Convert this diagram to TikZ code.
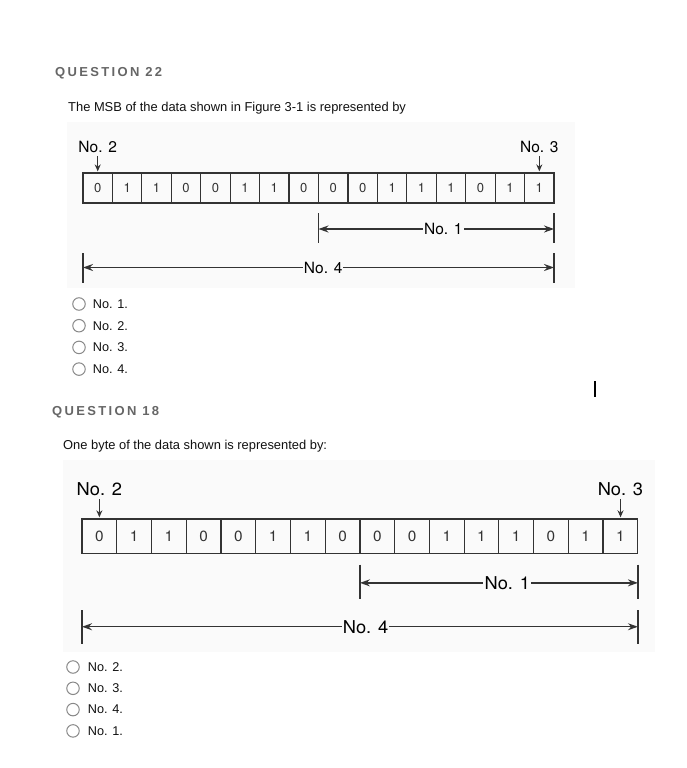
\documentclass[tikz,border=0pt]{standalone}
\usepackage{fontspec}
\setmainfont{Liberation Sans}
\newfontfamily\figfont{TeX Gyre Heros}
\newfontfamily\titlefont[LetterSpace=18]{Liberation Sans}
\usetikzlibrary{arrows.meta,positioning}
\definecolor{qgray}{HTML}{666666}
\definecolor{txtdark}{HTML}{111111}
\definecolor{figline}{HTML}{333333}
\definecolor{panelbg}{HTML}{FAFAFA}
\definecolor{radiogray}{HTML}{888888}

\tikzset{
  qtitle/.style={anchor=west, inner sep=0pt, text=qgray, font=\titlefont\fontsize{13}{15}\selectfont\bfseries},
  qtext/.style={anchor=west, inner sep=0pt, text=txtdark, font=\fontsize{12.9}{15}\selectfont},
  radio/.style={circle, draw=radiogray, line width=1pt, minimum size=12.5pt, inner sep=0pt},
  opt/.style={inner sep=0pt, text=txtdark, font=\fontsize{12.7}{15}\selectfont},
  bitcell/.style={draw=figline, line width=1.2pt, minimum width=29.44pt, minimum height=30pt,
    inner sep=0pt, text=figline, font=\figfont\fontsize{13}{13}\selectfont},
  figlabel/.style={inner sep=0pt, text=black, font=\figfont\fontsize{15.5}{16}\selectfont},
  dimlabel/.style={fill=panelbg, inner xsep=1pt, inner ysep=0pt, text=black, font=\figfont\fontsize{15.5}{16}\selectfont},
  tickline/.style={draw=figline, line width=1.6pt},
  dimline/.style={draw=figline, line width=1.3pt, {Stealth[length=10pt,width=7pt]}-{Stealth[length=10pt,width=7pt]}},
  ptr/.style={draw=figline, line width=1.2pt, -{Stealth[length=7pt,width=6pt]}},
}

\begin{document}
\begin{tikzpicture}[x=1pt,y=-1pt]
\useasboundingbox[fill=white] (0,0) rectangle (686,768);
% light panels behind the figures
\fill[panelbg] (67,122) rectangle (575,288);
\fill[panelbg] (63,460) rectangle (655,652);

% question 22
\node[qtitle] (q22) at (55,73) {QUESTION 22};
\node[qtext] (q22t) at (68,108) {The MSB of the data shown in Figure 3-1 is represented by};

% question 18
\node[qtitle] (q18) at (52,412) {QUESTION 18};
\node[qtext] (q18t) at (63,446) {One byte of the data shown is represented by:};

% the two bit rows (second one is a larger copy)
\foreach \q/\ox/\oy/\sx/\sy in {a/83/173/1/1, b/82/519/1.18/1.14}{
\begin{scope}[shift={(\ox,\oy)},xscale=\sx,yscale=\sy,transform shape]
  \foreach \b [count=\i] in {0,1,1,0,0,1,1,0,0,0,1,1,1,0,1,1}
    \node[bitcell] (\q-c\i) at ({(\i-0.5)*29.44},15) {\b};
  \node[figlabel] (\q-n2) at (14.72,-26) {No. 2};
  \node[figlabel] (\q-n3) at ({15.5*29.44},-26) {No. 3};
  \draw[ptr, shorten <=3pt, shorten >=1pt] (\q-n2.south) -- (\q-c1.north);
  \draw[ptr, shorten <=3pt, shorten >=1pt] (\q-n3.south) -- (\q-c16.north);
  % No. 1 span
  \coordinate (\q-l1) at ({8*29.44},56);
  \coordinate (\q-r1) at ({16*29.44},56);
  \draw[tickline] (\q-l1 |- 0,40) -- (\q-l1 |- 0,70);
  \draw[tickline] (\q-r1 |- 0,40) -- (\q-r1 |- 0,70);
  \draw[dimline] (\q-l1) -- (\q-r1) node[dimlabel, pos=0.53] (\q-d1) {No. 1};
  % No. 4 span
  \coordinate (\q-l4) at (0,94.5);
  \coordinate (\q-r4) at ({16*29.44},94.5);
  \draw[tickline] (\q-l4 |- 0,80) -- (\q-l4 |- 0,110);
  \draw[tickline] (\q-r4 |- 0,80) -- (\q-r4 |- 0,110);
  \draw[dimline] (\q-l4) -- (\q-r4) node[dimlabel, pos=0.51] (\q-d4) {No. 4};
\end{scope}
}

% answer choices
\foreach \t [count=\k] in {No. 1., No. 2., No. 3., No. 4.}{
  \node[radio] (a-r\k) at (79,{304+21.7*(\k-1)}) {};
  \node[opt, right=7pt of a-r\k] (a-o\k) {\t};
}
\foreach \t [count=\k] in {No. 2., No. 3., No. 4., No. 1.}{
  \node[radio] (b-r\k) at (73,{667+21.3*(\k-1)}) {};
  \node[opt, right=8pt of b-r\k] (b-o\k) {\t};
}

% text cursor
\draw[line width=1.6pt] (595,381) -- (595,397);
\end{tikzpicture}
\end{document}
